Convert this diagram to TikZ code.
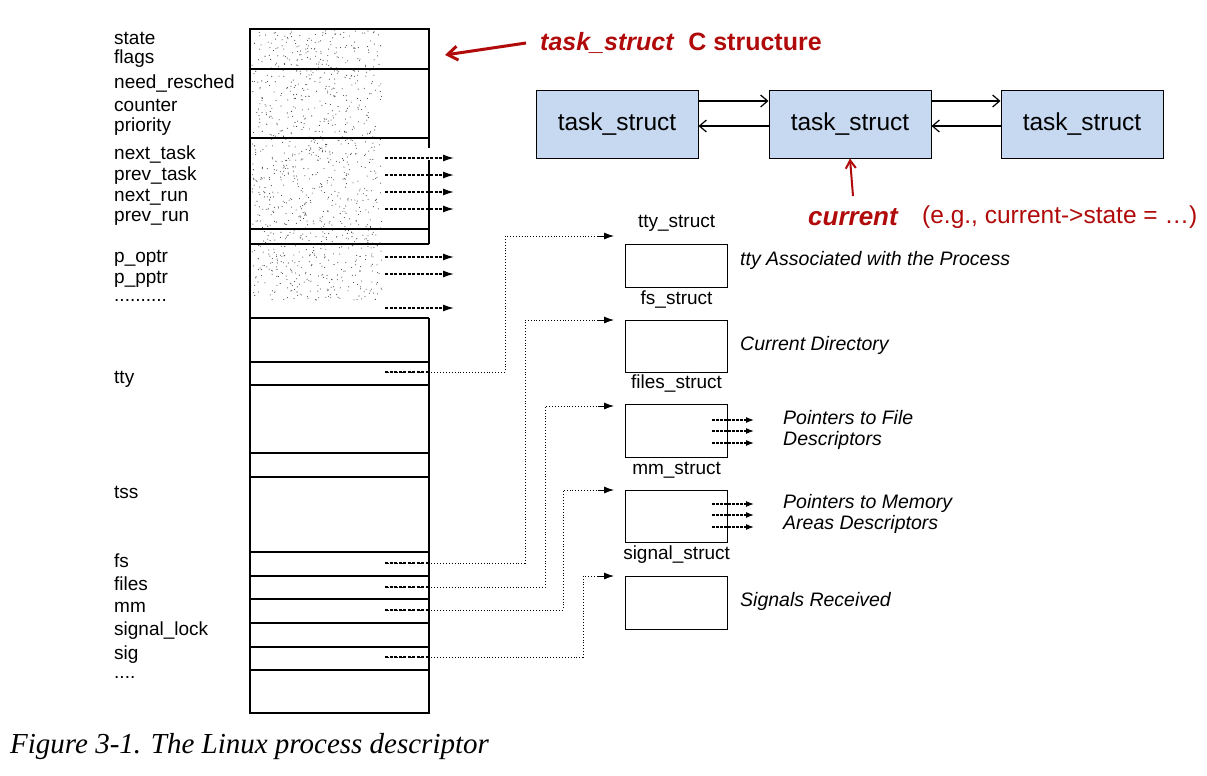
\documentclass[tikz,border=0pt]{standalone}
\usepackage{fontspec}
\setmainfont{Liberation Sans}
\newfontfamily\capfont{Liberation Serif}
\usetikzlibrary{arrows.meta}
\definecolor{dred}{HTML}{B00A0A}
\definecolor{boxblue}{HTML}{C6D9F1}
\begin{document}
\begin{tikzpicture}[x=1pt,y=-1pt,
  lab/.style={anchor=west,font=\fontsize{19}{19}\selectfont,inner sep=0},
  desc/.style={anchor=west,font=\fontsize{19.5}{21}\selectfont\itshape,inner sep=0,align=left},
  sbox/.style={draw,line width=1.2pt,minimum width=102pt,anchor=north west,inner sep=0},
  tbox/.style={draw,line width=1pt,fill=boxblue,minimum width=162pt,minimum height=68pt,font=\fontsize{24.5}{24.5}\selectfont},
  ptr/.style={dash pattern=on 3pt off 1.5pt,line width=1.4pt,-{Latex[length=11pt,width=7pt]}},
  link/.style={dotted,line width=0.9pt},
  dl/.style={line width=1.2pt,-{Straight Barb[length=7pt,width=12pt]}}]
\useasboundingbox (0,0) rectangle (1207,776);
% stipple
\pgfmathsetseed{7}
\foreach \i in {1,...,1100}{
  \pgfmathsetmacro{\px}{252+rnd*130}
  \pgfmathsetmacro{\py}{30+rnd*270}
  \fill[black!75] (\px,\py) circle (0.55pt);
}
% main descriptor
\draw[line width=1.3pt] (429,148) -- (429,29) -- (250,29) -- (250,713) -- (429,713) -- (429,318);
\draw[line width=1.3pt] (429,160) -- (429,244);
\foreach \y in {69,138,229,244}{\draw[line width=1.3pt] (250,\y) -- (429,\y);}
\foreach \y in {318,362,385,453,477,552,576,599,623,647,670}{\draw[line width=1.3pt] (250,\y) -- (429,\y);}
% field labels
\foreach \t/\y in {state/38,flags/59,need\_resched/84,counter/105,priority/127,next\_task/155,prev\_task/176,next\_run/197,prev\_run/218,p\_optr/258,p\_pptr/279,tty/379,tss/492,fs/561,files/584,mm/607,signal\_lock/631,sig/655}
  \node[lab] (l\y) at (114,\y) {\t};
\node[lab] (dots1) at (114,300) {..........};
\node[lab] (dots2) at (114,677) {....};
% outward pointers
\foreach \y in {158,175,192,209,257,274,308}{
  \coordinate (s\y) at (385,\y); \coordinate (e\y) at (454,\y);
  \draw[ptr] (s\y) -- (e\y);}
% sub structures
\node[sbox,minimum height=43pt] (tty) at (625,244) {};
\node[sbox,minimum height=52pt] (fs) at (625,320) {};
\node[sbox,minimum height=53pt] (files) at (625,404) {};
\node[sbox,minimum height=52pt] (mm) at (625,490) {};
\node[sbox,minimum height=53pt] (sig) at (625,576) {};
\foreach \n/\t in {tty/tty\_struct,fs/fs\_struct,files/files\_struct,mm/mm\_struct,sig/signal\_struct}
  \node[font=\fontsize{19}{19}\selectfont,anchor=south,inner sep=0] at ([yshift=12pt]\n.north) {\t};
\node[desc] at (740,260) {tty Associated with the Process};
\node[desc] at (740,345) {Current Directory};
\node[desc] at (783,430) {Pointers to File\\Descriptors};
\node[desc] at (783,514) {Pointers to Memory\\Areas Descriptors};
\node[desc] at (740,601) {Signals Received};
\foreach \y in {420,431,443,504,515,527}{
  \coordinate (a\y) at (712,\y); \coordinate (b\y) at (754,\y);
  \draw[dash pattern=on 2.5pt off 1.5pt,line width=1.2pt,-{Latex[length=8pt,width=6pt]}] (a\y) -- (b\y);}
% links
\coordinate (ptty) at (385,372); \coordinate (pfs) at (385,563);
\coordinate (pfiles) at (385,587); \coordinate (pmm) at (385,610); \coordinate (psig) at (385,657);
\draw[link] (ptty) -- (505,372) -- (505,236) -- (600,236);
\draw[link] (pfs) -- (525,563) -- (525,320) -- (600,320);
\draw[link] (pfiles) -- (545,587) -- (545,406) -- (600,406);
\draw[link] (pmm) -- (563,610) -- (563,490) -- (600,490);
\draw[link] (psig) -- (583,657) -- (583,576) -- (600,576);
\foreach \p in {ptty,pfs,pfiles,pmm,psig}{\draw[dash pattern=on 3pt off 1.5pt,line width=1.4pt] (\p) -- ++(45,0);}
\foreach \y in {236,320,406,490,576}{\coordinate (h\y) at (598,\y);\coordinate (t\y) at (614,\y);
  \draw[line width=0.9pt,-{Latex[length=10pt,width=7pt]}] (h\y) -- (t\y);}
% task_struct list
\node[tbox] (t1) at (617,124) {task\_struct};
\node[tbox] (t2) at (850,124) {task\_struct};
\node[tbox] (t3) at (1082,124) {task\_struct};
\draw[dl] ([yshift=23pt]t1.east) -- ([yshift=23pt]t2.west);
\draw[dl] ([yshift=23pt]t2.east) -- ([yshift=23pt]t3.west);
\draw[dl] ([yshift=-2pt]t2.west) -- ([yshift=-2pt]t1.east);
\draw[dl] ([yshift=-2pt]t3.west) -- ([yshift=-2pt]t2.east);
% red annotations
\node[anchor=west,text=dred,font=\fontsize{25}{25}\selectfont\bfseries,inner sep=0] (title) at (540,43) {\textit{task\_struct}\ \ C structure};
\draw[dred,line width=3pt,-{Straight Barb[length=10pt,width=14pt]}] (title.west) ++(-14,0) -- (445,55);
\node[anchor=west,text=dred,font=\fontsize{26}{26}\selectfont\bfseries\itshape,inner sep=0] (cur) at (808,217) {current};
\node[anchor=west,text=dred,font=\fontsize{24.5}{24.5}\selectfont,inner sep=0] at (922,217) {(e.g., current->state = …)};
\draw[dred,line width=2pt,-{Straight Barb[length=8pt,width=10pt]}] (853,196) -- (t2.south);
% caption
\node[anchor=west,inner sep=0,font=\capfont\fontsize{29}{29}\selectfont\itshape] at (10,747) {Figure 3-1. The Linux process descriptor};
\end{tikzpicture}
\end{document}
